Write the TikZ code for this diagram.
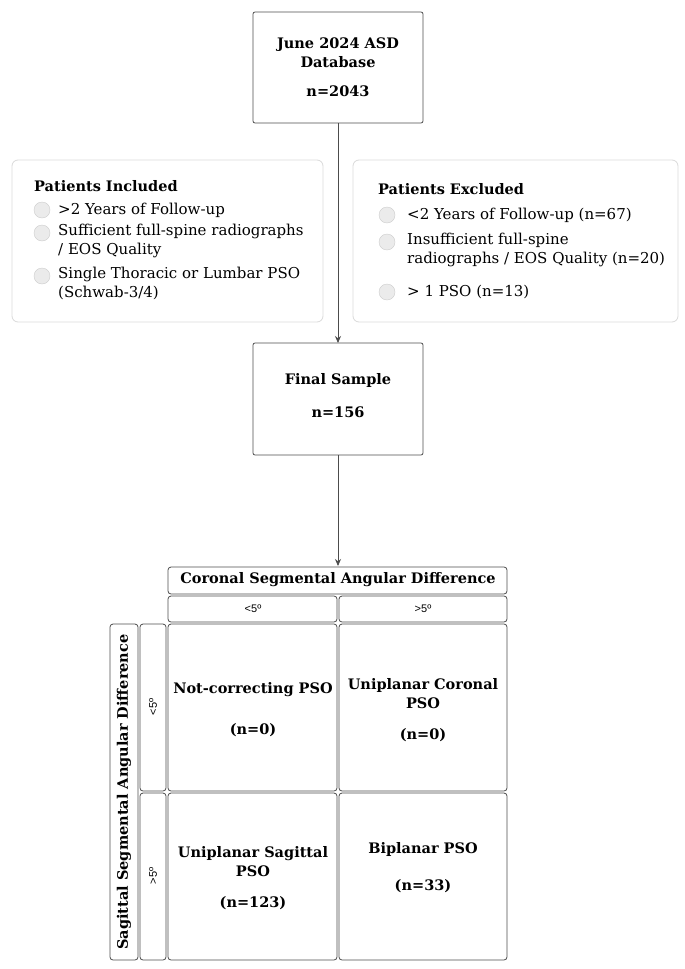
\documentclass[tikz,border=0pt]{standalone}
\usepackage{fontspec}
\setmainfont{DejaVu Serif}
\newfontfamily\labelfont{Liberation Sans}
\usetikzlibrary{arrows.meta}
\begin{document}
\begin{tikzpicture}[x=1pt,y=-1pt,
    every node/.style={font=\fontsize{15}{19}\selectfont},
    boldtext/.style={font=\fontsize{14.5}{19}\selectfont\bfseries},
    smalltext/.style={font=\labelfont\fontsize{11}{13}\selectfont},
    stepbox/.style={draw=black!70, rounded corners=2pt, line width=0.8pt},
    listbox/.style={draw=black!15, rounded corners=6pt, line width=0.8pt},
    cell/.style={draw=black!70, rounded corners=3pt, line width=0.8pt},
    tick/.style={circle, draw=black!20, fill=black!8, minimum size=16pt, inner sep=0pt},
    item/.style={anchor=west, align=left, inner sep=0pt},
    arrow/.style={draw=black!70, line width=0.8pt, -{Stealth[length=7pt,width=6pt]}}
  ]
  \useasboundingbox (0,0) rectangle (685,969);

  % Boxes of the flow
  \draw[stepbox] (253,12) rectangle (423,123);
  \node[align=center, boldtext] (db) at (338,67)
    {June 2024 ASD\\Database\\[10pt]n=2043};
  \draw[stepbox] (253,343) rectangle (423,455);
  \node[align=center, boldtext] (final) at (338,396)
    {Final Sample\\[14pt]n=156};
  \coordinate (dbout) at (338,123);
  \coordinate (finalin) at (338,343);
  \coordinate (finalout) at (338,455);
  \coordinate (gridin) at (338,566);

  % Lists
  \draw[listbox] (12,160) rectangle (323,322);
  \node[item, boldtext] (inc) at (34,186) {Patients Included};
  \node[tick] (i1) at (42,210) {};
  \node[item] at (58,210) {>2 Years of Follow-up};
  \node[tick] (i2) at (42,233) {};
  \node[item, anchor=north west] at (58,224) {Sufficient full-spine radiographs\\/ EOS Quality};
  \node[tick] (i3) at (42,276) {};
  \node[item, anchor=north west] at (58,267) {Single Thoracic or Lumbar PSO\\(Schwab-3/4)};

  \draw[listbox] (353,160) rectangle (678,322);
  \node[item, boldtext] (exc) at (378,189) {Patients Excluded};
  \node[tick] (e1) at (387,215) {};
  \node[item] at (407,215) {<2 Years of Follow-up (n=67)};
  \node[tick] (e2) at (387,242) {};
  \node[item, anchor=north west] at (407,233) {Insufficient full-spine\\radiographs / EOS Quality (n=20)};
  \node[tick] (e3) at (387,292) {};
  \node[item] at (407,292) {> 1 PSO (n=13)};

  % Connectors
  \draw[arrow] (dbout) -- (finalin);
  \draw[arrow] (finalout) -- (gridin);

  % Grid
  \draw[cell] (168,567) rectangle (507,594);
  \node[boldtext] (coronal) at (338,580) {Coronal Segmental Angular Difference};
  \draw[cell] (168,596) rectangle (337,622);
  \draw[cell] (339,596) rectangle (507,622);
  \node[smalltext] (cl) at (253,609) {<5º};
  \node[smalltext] (cg) at (423,609) {>5º};

  \draw[cell] (110,624) rectangle (138,960);
  \node[rotate=90, boldtext] (sagittal) at (124,792) {Sagittal Segmental Angular Difference};
  \draw[cell] (140,624) rectangle (166,791);
  \draw[cell] (140,793) rectangle (166,960);
  \node[rotate=90, smalltext] (sl) at (153,707) {<5º};
  \node[rotate=90, smalltext] (sg) at (153,876) {>5º};

  \draw[cell] (168,624) rectangle (337,791);
  \draw[cell] (339,624) rectangle (507,791);
  \draw[cell] (168,793) rectangle (337,960);
  \draw[cell] (339,793) rectangle (507,960);
  \node[align=center, boldtext] (notcorr) at (253,710)
    {Not-correcting PSO\\[22pt](n=0)};
  \node[align=center, boldtext] (unicor) at (423,710)
    {Uniplanar Coronal\\PSO\\[12pt](n=0)};
  \node[align=center, boldtext] (unisag) at (253,878)
    {Uniplanar Sagittal\\PSO\\[12pt](n=123)};
  \node[align=center, boldtext] (biplanar) at (423,868)
    {Biplanar PSO\\[18pt](n=33)};
\end{tikzpicture}
\end{document}
